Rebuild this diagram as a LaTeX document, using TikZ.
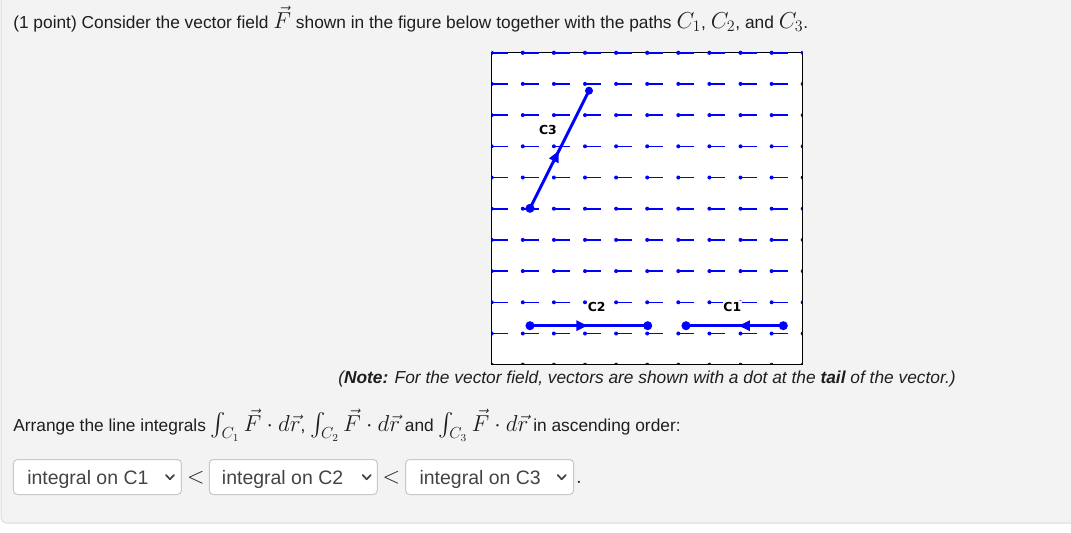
\documentclass[tikz,border=0pt]{standalone}
\usepackage{amsmath}
\usepackage[no-math]{fontspec}
\setmainfont{Liberation Sans}
\newfontfamily\labelfont{DejaVu Sans}
\usetikzlibrary{arrows.meta,decorations.markings}
\definecolor{panelbg}{HTML}{F3F3F3}
\definecolor{panelborder}{HTML}{DCDCDC}
\definecolor{fieldblue}{HTML}{0000FF}
\definecolor{boxborder}{HTML}{C8C8C8}
\definecolor{seltext}{HTML}{444444}
\definecolor{maintext}{HTML}{1E1E1E}
\newcommand\mymath[1]{{\fontsize{17.4}{19}\selectfont$#1$}}
\newcommand\bigmath[1]{{\fontsize{18.2}{20}\selectfont$#1$}}
\newcommand\intmath[1]{{\fontsize{16.9}{19}\selectfont$#1$}}
\begin{document}
\begin{tikzpicture}[x=0.75pt,y=-0.75pt,
  vecline/.style={draw=fieldblue,line width=1.2pt},
  pathline/.style={draw=fieldblue,line width=2.2pt},
  enddot/.style={circle,fill=fieldblue,inner sep=0pt,minimum size=6.8pt},
  curvelabel/.style={fill=white,inner sep=0.6pt,text=black,font=\labelfont\bfseries\fontsize{9.3}{10}\selectfont},
  selectbox/.style={draw=boxborder,fill=white,rounded corners=3pt,line width=0.75pt,minimum width=126pt,minimum height=26.25pt,inner sep=0pt},
  seltxt/.style={anchor=base west,inner sep=0pt,text=seltext,font=\fontsize{14.6}{16}\selectfont},
  chev/.style={draw=seltext,line width=1.3pt,line cap=round,line join=round},
  maintxt/.style={inner sep=0pt,text=maintext,font=\fontsize{13}{15}\selectfont},
  midarrow/.style={postaction={decorate},decoration={markings,mark=at position #1 with {\arrow{Triangle[length=8.5pt,width=7.5pt]}}}}
]
\useasboundingbox (0,0) rectangle (1071,532);
\fill[white] (0,0) rectangle (1071,532);
\draw[panelborder,fill=panelbg,rounded corners=4pt,line width=0.75pt] (1,-10) rectangle (1085,523);

% question text
\node[maintxt,anchor=base west] (q1) at (13,28.5) {(1 point) Consider the vector field \bigmath{\vec{F}} shown in the figure below together with the paths \bigmath{C_1}, \bigmath{C_2}, and \bigmath{C_3}.};

% plot area
\fill[white] (491.7,52.7) rectangle (802.7,364.7);
\begin{scope}
\clip (491.7,52.7) rectangle (802.7,364.7);
\foreach \i in {0,...,10} {
  \foreach \j in {0,...,10} {
    \draw[vecline] (491.7+31.1*\i,52.7+31.2*\j) -- ++(16,0);
    \fill[fieldblue] (491.7+31.1*\i,52.7+31.2*\j) circle[radius=1.5pt];
  }
}
\end{scope}
\draw[black,line width=1.1pt] (491.7,52.7) rectangle (802.7,364.7);
\begin{scope}
\clip (491.7,48) rectangle (802.7,57);
\foreach \i in {0,...,10} {
  \draw[vecline] (491.7+31.1*\i,52.7) -- ++(16,0);
  \fill[fieldblue] (491.7+31.1*\i,52.7) circle[radius=1.5pt];
}
\end{scope}

% labels
\node[curvelabel] (l3) at (548,130) {C3};
\node[curvelabel] (l2) at (596.7,306.7) {C2};
\node[curvelabel] (l1) at (732.3,306.7) {C1};

% paths
\node[enddot] (c3a) at (530,208.3) {};
\node[enddot,minimum size=6pt] (c3b) at (589,90.7) {};
\node[enddot] (c2a) at (530,325.7) {};
\node[enddot] (c2b) at (647.7,325.7) {};
\node[enddot] (c1a) at (783.3,325.7) {};
\node[enddot] (c1b) at (686,325.7) {};
\draw[pathline,midarrow=0.49] (c3a.center) -- (c3b.center);
\draw[pathline,midarrow=0.49] (c2a.center) -- (c2b.center);
\draw[pathline,midarrow=0.46] (c1a.center) -- (c1b.center);

% note
\node[maintxt,anchor=base] (note) at (647,383) {\itshape (\textbf{Note:} For the vector field, vectors are shown with a dot at the \textbf{tail} of the vector.)};

% integrals line
\node[maintxt,anchor=base west] (q2) at (13,431) {Arrange the line integrals \intmath{\int_{C_1}\vec{F}\cdot d\vec{r}}, \intmath{\int_{C_2}\vec{F}\cdot d\vec{r}} and \intmath{\int_{C_3}\vec{F}\cdot d\vec{r}} in ascending order:};

% dropdowns
\node[selectbox] (s1) at (97.4,477) {};
\node[selectbox] (s2) at (293.3,477) {};
\node[selectbox] (s3) at (489.6,477) {};
\node[seltxt] (t1) at (27,484) {integral on C1};
\node[seltxt] (t2) at (221.7,484) {integral on C2};
\node[seltxt] (t3) at (419.3,484) {integral on C3};
\draw[chev] (166,475) -- (170,479.3) -- (174,475);
\draw[chev] (362.7,475) -- (366.7,479.3) -- (370.7,475);
\draw[chev] (557.7,475) -- (561.7,479.3) -- (565.7,475);
\node[maintxt,anchor=base] (lt1) at (196,483) {\mymath{<}};
\node[maintxt,anchor=base] (lt2) at (391.5,483) {\mymath{<}};
\node[maintxt,anchor=base west] (dot) at (575.5,483) {\mymath{.}};
\end{tikzpicture}
\end{document}
